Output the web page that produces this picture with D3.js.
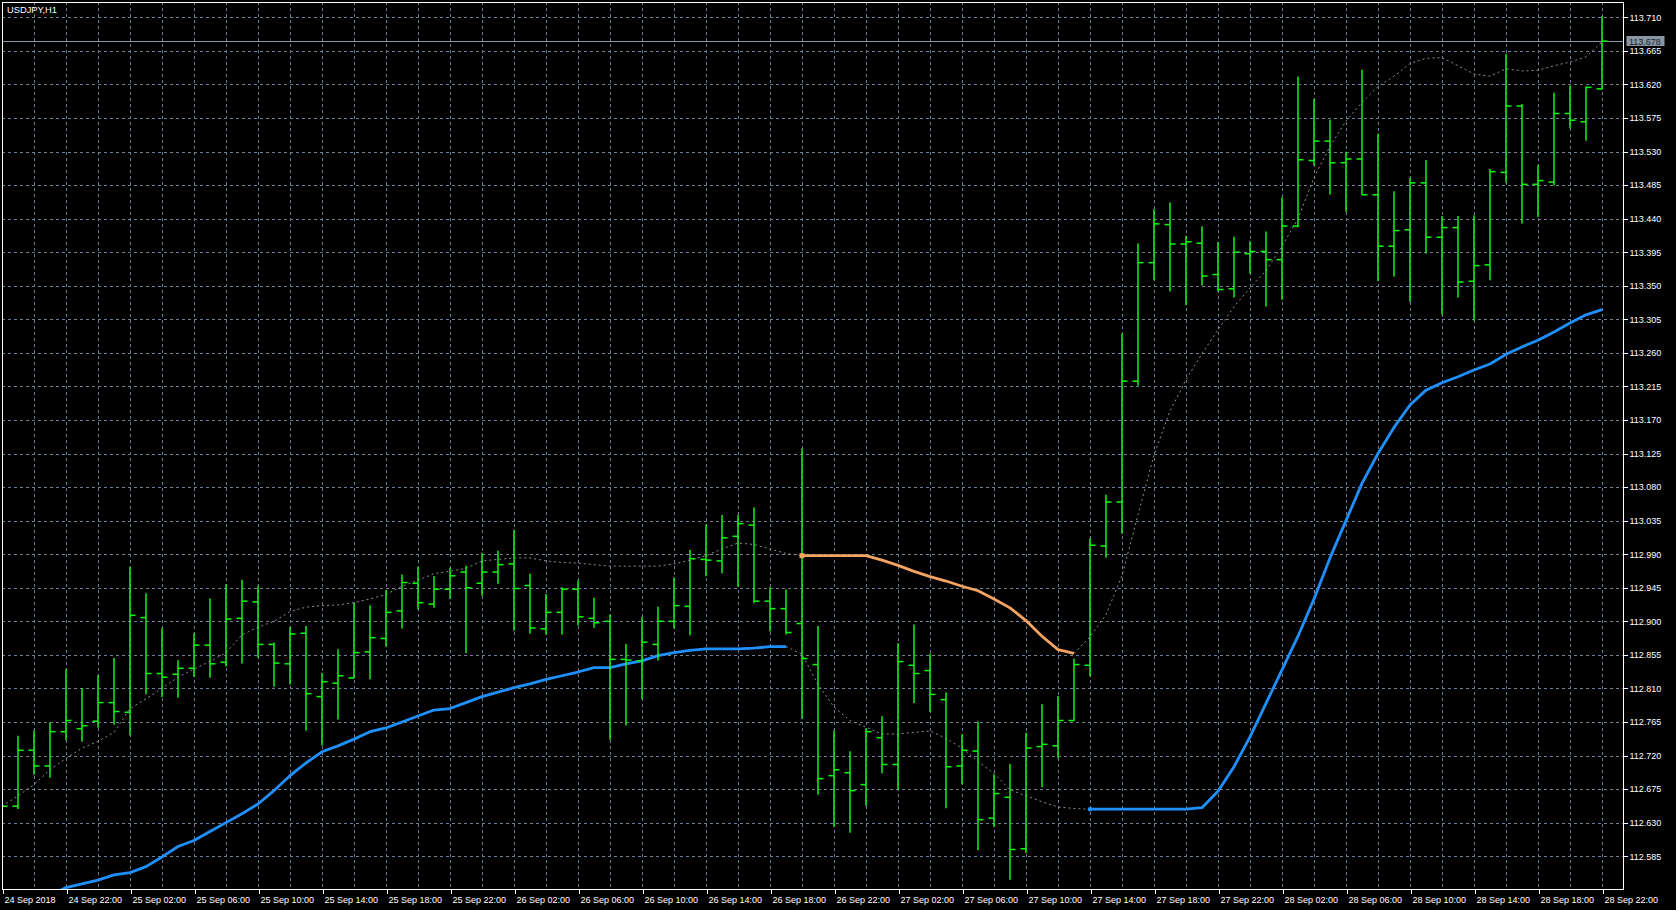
<!DOCTYPE html>
<html><head><meta charset="utf-8">
<script src="https://cdn.jsdelivr.net/npm/d3@7"></script>
<style>html,body{margin:0;padding:0;background:#000;overflow:hidden}</style>
</head><body>
<svg id="chart" width="1676" height="910"></svg>
<script>
// ---------------- data ----------------
const chartTitle = "USDJPY,H1";
const barCount = 101; // 24 Sep 18:00 .. 28 Sep 22:00, H1
const timeLabelBars = d3.range(0, 101, 4);
const timeLabels = ["24 Sep 2018","24 Sep 22:00","25 Sep 02:00","25 Sep 06:00","25 Sep 10:00","25 Sep 14:00","25 Sep 18:00","25 Sep 22:00","26 Sep 02:00","26 Sep 06:00","26 Sep 10:00","26 Sep 14:00","26 Sep 18:00","26 Sep 22:00","27 Sep 02:00","27 Sep 06:00","27 Sep 10:00","27 Sep 14:00","27 Sep 18:00","27 Sep 22:00","28 Sep 02:00","28 Sep 06:00","28 Sep 10:00","28 Sep 14:00","28 Sep 18:00","28 Sep 22:00"];
const priceTicks = ["112.585","112.630","112.675","112.720","112.765","112.810","112.855","112.900","112.945","112.990","113.035","113.080","113.125","113.170","113.215","113.260","113.305","113.350","113.395","113.440","113.485","113.530","113.575","113.620","113.665","113.710"];
const lastPrice = 113.678;

const open = [112.655,112.652,112.727,112.706,112.752,112.756,112.766,112.791,112.778,112.905,112.830,112.829,112.837,112.868,
112.845,112.904,112.926,112.869,112.843,112.884,112.799,112.817,112.824,112.859,112.877,112.914,112.951,
112.923,112.943,112.966,112.951,112.966,112.977,112.948,112.890,112.912,112.943,112.904,112.900,
112.849,112.847,112.869,112.900,112.920,112.983,112.981,113.014,113.029,112.927,112.917,112.897,
112.842,112.693,112.697,112.681,112.744,112.708,112.841,112.834,112.795,112.706,112.726,112.636,112.664,112.595,112.732,112.733,112.767,
112.841,113.001,113.060,113.222,113.381,113.432,113.406,113.407,113.365,113.346,113.393,113.396,113.385,113.430,
113.518,113.544,113.515,113.520,113.472,113.403,113.425,113.488,113.415,113.428,113.356,113.378,
113.502,113.591,113.486,113.489,113.581,113.570,113.614];
const high = [112.662,112.746,112.753,112.764,112.835,112.810,112.827,112.850,112.972,112.937,112.890,112.847,112.883,112.930,
112.949,112.955,112.947,112.871,112.892,112.893,112.830,112.862,112.924,112.921,112.941,112.962,112.972,
112.960,112.971,112.974,112.991,112.994,113.022,112.963,112.936,112.945,112.954,112.931,112.908,
112.869,112.905,112.919,112.958,112.995,113.029,113.042,113.042,113.052,112.945,112.942,113.131,
112.893,112.753,112.725,112.756,112.772,112.870,112.895,112.856,112.804,112.748,112.765,112.694,112.708,112.750,112.788,112.799,112.849,
113.011,113.069,113.285,113.406,113.452,113.461,113.416,113.429,113.408,113.415,113.409,113.422,113.468,113.630,
113.600,113.572,113.529,113.639,113.553,113.476,113.494,113.518,113.443,113.443,113.444,113.506,
113.660,113.593,113.511,113.608,113.618,113.617,113.711];
const low = [112.645,112.649,112.695,112.691,112.741,112.739,112.758,112.762,112.748,112.803,112.799,112.798,112.826,112.825,
112.840,112.844,112.852,112.813,112.816,112.754,112.734,112.769,112.824,112.823,112.867,112.891,112.917,
112.919,112.931,112.858,112.935,112.951,112.888,112.884,112.883,112.883,112.895,112.892,112.742,
112.761,112.796,112.848,112.891,112.882,112.961,112.965,112.947,112.925,112.887,112.883,112.770,
112.668,112.625,112.617,112.653,112.697,112.674,112.791,112.779,112.650,112.682,112.594,112.625,112.554,112.590,112.678,112.717,112.767,
112.827,112.986,113.018,113.217,113.358,113.343,113.325,113.351,113.343,113.335,113.367,113.323,113.332,113.429,
113.512,113.473,113.450,113.472,113.357,113.363,113.329,113.394,113.312,113.335,113.304,113.358,
113.489,113.434,113.443,113.485,113.562,113.545,113.614];
const close = [112.652,112.727,112.706,112.752,112.767,112.760,112.791,112.779,112.908,112.830,112.825,112.837,112.868,112.843,
112.903,112.927,112.869,112.844,112.883,112.803,112.819,112.827,112.858,112.878,112.912,112.952,112.925,
112.943,112.961,112.945,112.966,112.976,112.944,112.891,112.912,112.943,112.906,112.898,112.849,
112.848,112.872,112.900,112.921,112.984,112.982,113.012,113.031,112.927,112.917,112.885,112.850,
112.689,112.701,112.673,112.752,112.708,112.846,112.830,112.802,112.705,112.727,112.634,112.669,112.594,112.730,112.735,112.767,112.842,
113.002,113.060,113.222,113.381,113.433,113.406,113.409,113.363,113.345,113.395,113.396,113.385,113.430,113.519,
113.544,113.515,113.520,113.472,113.403,113.424,113.488,113.415,113.428,113.355,113.377,113.503,
113.591,113.486,113.491,113.581,113.572,113.616,113.678];

// indicator: upper line (dotted, orange while above price)
const upperLine = [112.652,112.666,112.681,112.701,112.716,112.730,112.739,112.751,112.783,112.796,112.810,112.825,112.836,112.846,
112.858,112.882,112.892,112.900,112.913,112.919,112.921,112.922,112.925,112.930,112.936,112.947,112.955,
112.964,112.967,112.971,112.981,112.983,112.985,112.985,112.981,112.979,112.978,112.976,112.974,
112.974,112.974,112.974,112.977,112.982,112.988,112.997,113.005,113.003,112.997,112.991,112.988,
112.988,112.988,112.988,112.988,112.982,112.975,112.967,112.960,112.954,112.947,112.941,112.930,112.918,112.901,112.880,112.862,112.857,
112.879,112.909,112.961,113.043,113.123,113.182,113.224,113.259,113.291,113.322,113.347,113.370,113.403,113.440,
113.495,113.537,113.571,113.596,113.617,113.631,113.648,113.655,113.656,113.645,113.634,113.631,
113.641,113.638,113.639,113.645,113.650,113.657,113.677];
const upperActiveBars = [50, 67];   // orange part
// indicator: lower line (blue while below price, dotted otherwise)
const lowerLine = [null,null,null,112.532,112.543,112.548,112.553,112.560,112.563,112.571,112.584,112.598,112.606,112.618,
112.630,112.642,112.655,112.673,112.693,112.710,112.725,112.733,112.742,112.752,112.757,112.765,112.773,
112.781,112.783,112.791,112.799,112.805,112.811,112.816,112.822,112.827,112.832,112.838,112.838,
112.843,112.847,112.854,112.858,112.861,112.863,112.863,112.863,112.864,112.866,112.866,112.856,
112.815,112.785,112.767,112.758,112.749,112.749,112.751,112.753,112.743,112.730,112.712,112.696,112.674,112.666,112.658,112.651,112.649,
112.648,112.648,112.648,112.648,112.648,112.648,112.648,112.650,112.672,112.705,112.745,112.790,112.835,112.880,
112.930,112.985,113.035,113.085,113.125,113.160,113.190,113.210,113.220,113.228,113.237,113.245,
113.258,113.268,113.277,113.288,113.300,113.311,113.318];
const lowerActiveBars = [[3, 49], [68, 100]]; // blue parts

// ---------------- layout ----------------
const W = 1676, H = 910;
const plot = {left: 2, top: 2, right: 1623, bottom: 889};
const x = d3.scaleLinear().domain([0, barCount - 1]).range([2, 1602]);
const y = d3.scaleLinear().domain([112.585, 113.710]).range([856.2, 17.3]);

const C = {bg:"#000000", grid:"#6e8094", bar:"#00ff00", blue:"#1e90ff", orange:"#f4a460",
           dot:"#8f8f8f", frame:"#ffffff", text:"#ffffff", priceLine:"#8896a6"};
const FONT = "'Liberation Sans', Arial, sans-serif";

const svg = d3.select("#chart");
svg.append("rect").attr("width", W).attr("height", H).attr("fill", C.bg);

svg.append("clipPath").attr("id","plotclip").append("rect")
  .attr("x", plot.left).attr("y", plot.top)
  .attr("width", plot.right - plot.left).attr("height", plot.bottom - plot.top);

const g = svg.append("g").attr("clip-path","url(#plotclip)");

// grid
const gridH = g.append("g");
priceTicks.forEach(t => {
  const yy = Math.round(y(+t)) + 0.5;
  gridH.append("line").attr("x1", plot.left).attr("x2", plot.right)
    .attr("y1", yy).attr("y2", yy)
    .attr("stroke", C.grid).attr("stroke-width", 1).attr("stroke-dasharray","3,3")
    .attr("shape-rendering","crispEdges");
});
d3.range(2, barCount, 2).forEach(i => {
  const xx = Math.round(x(i)) + 0.5;
  gridH.append("line").attr("x1", xx).attr("x2", xx)
    .attr("y1", plot.top).attr("y2", plot.bottom)
    .attr("stroke", C.grid).attr("stroke-width", 1).attr("stroke-dasharray","3,3")
    .attr("shape-rendering","crispEdges");
});

// last price line
const lpY = Math.round(y(lastPrice)) + 0.5;
g.append("line").attr("x1", plot.left).attr("x2", plot.right).attr("y1", lpY).attr("y2", lpY)
  .attr("stroke", C.priceLine).attr("stroke-width", 1).attr("shape-rendering","crispEdges");

// indicator lines
const line = d3.line().defined(d => d.v != null).x(d => x(d.i)).y(d => y(d.v));
function seg(arr, a, b) { return d3.range(a, b + 1).map(i => ({i, v: arr[i]})); }

// upper dotted parts
g.append("path").datum(seg(upperLine, 0, upperActiveBars[0])).attr("d", line)
  .attr("fill","none").attr("stroke", C.dot).attr("stroke-width",1).attr("stroke-dasharray","2,3");
g.append("path").datum(seg(upperLine, upperActiveBars[1], barCount - 1)).attr("d", line)
  .attr("fill","none").attr("stroke", C.dot).attr("stroke-width",1).attr("stroke-dasharray","2,3");
// lower dotted part
g.append("path").datum(seg(lowerLine, lowerActiveBars[0][1], lowerActiveBars[1][0])).attr("d", line)
  .attr("fill","none").attr("stroke", C.dot).attr("stroke-width",1).attr("stroke-dasharray","2,3");

// colored parts
g.append("path").datum(seg(upperLine, upperActiveBars[0], upperActiveBars[1])).attr("d", line)
  .attr("fill","none").attr("stroke", C.orange).attr("stroke-width",2.8).attr("stroke-linejoin","round");
lowerActiveBars.forEach(r => {
  g.append("path").datum(seg(lowerLine, r[0], r[1])).attr("d", line)
    .attr("fill","none").attr("stroke", C.blue).attr("stroke-width",2.8).attr("stroke-linejoin","round");
});

// OHLC bars
const bars = g.append("g").attr("stroke", C.bar).attr("stroke-width", 1.5);
d3.range(barCount).forEach(i => {
  const xx = x(i);
  bars.append("line").attr("x1", xx).attr("x2", xx).attr("y1", y(high[i]) - 0.5).attr("y2", y(low[i]) + 0.5);
  bars.append("line").attr("x1", xx - 5.5).attr("x2", xx).attr("y1", y(open[i])).attr("y2", y(open[i]));
  bars.append("line").attr("x1", xx).attr("x2", xx + 5.5).attr("y1", y(close[i])).attr("y2", y(close[i]));
});

// start markers of colored lines
g.append("rect").attr("x", x(upperActiveBars[0]) - 2.5).attr("y", y(upperLine[upperActiveBars[0]]) - 2.5)
  .attr("width", 5).attr("height", 5).attr("fill", C.orange);
g.append("circle").attr("cx", x(lowerActiveBars[1][0])).attr("cy", y(lowerLine[lowerActiveBars[1][0]]))
  .attr("r", 2.3).attr("fill", C.blue);

// frame
svg.append("rect").attr("x", plot.left + 0.5).attr("y", plot.top + 0.5)
  .attr("width", plot.right - plot.left).attr("height", plot.bottom - plot.top)
  .attr("fill","none").attr("stroke", C.frame).attr("stroke-width",1).attr("shape-rendering","crispEdges");

// title
svg.append("text").attr("x", 7).attr("y", 13).text(chartTitle)
  .attr("fill", C.text).attr("font-family", FONT).attr("font-size", "9.3px");

// bottom axis
const xAxis = d3.axisBottom(x).tickValues(timeLabelBars)
  .tickFormat((d, k) => timeLabels[k]).tickSize(4).tickPadding(3);
const gx = svg.append("g").attr("transform", `translate(0.5,${plot.bottom + 0.5})`).call(xAxis);
gx.select(".domain").remove();
gx.selectAll(".tick line").attr("stroke", C.frame).attr("shape-rendering","crispEdges");
gx.selectAll(".tick text").attr("fill", C.text).attr("text-anchor","start").attr("x", 1.5)
  .attr("font-family", FONT).attr("font-size","9px");

// right axis
const yAxis = d3.axisRight(y).tickValues(priceTicks.map(Number))
  .tickFormat(d3.format(".3f")).tickSize(4).tickPadding(2);
const gy = svg.append("g").attr("transform", `translate(${plot.right + 0.5},0)`).call(yAxis);
gy.select(".domain").remove();
gy.selectAll(".tick line").attr("stroke", C.frame).attr("shape-rendering","crispEdges");
gy.selectAll(".tick text").attr("fill", C.text).attr("font-family", FONT).attr("font-size","9px");

// last price label
svg.append("rect").attr("x", plot.right + 3.5).attr("y", lpY - 5.5).attr("width", 38).attr("height", 10)
  .attr("fill", C.priceLine);
svg.append("text").attr("x", plot.right + 6).attr("y", lpY).attr("dy","0.34em")
  .text(lastPrice.toFixed(3)).attr("fill","#1a1a1a").attr("font-family", FONT).attr("font-size","9px");
</script>
</body></html>
